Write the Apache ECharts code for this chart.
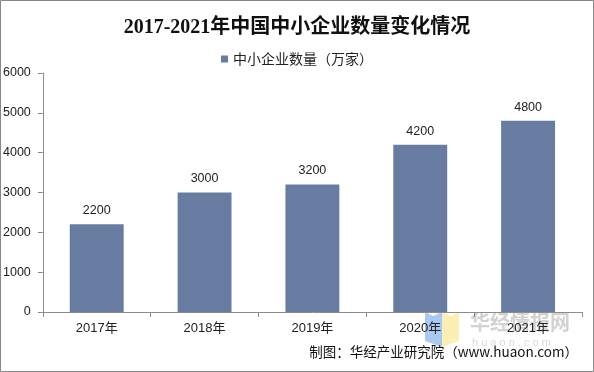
<!DOCTYPE html>
<html>
<head>
<meta charset="utf-8">
<script src="https://cdn.jsdelivr.net/npm/echarts@6/dist/echarts.min.js"></script>
<style>
html,body{margin:0;padding:0;background:#fff;}
#c{width:594px;height:372px;}
</style>
</head>
<body>
<div id="c"></div>
<script>
const categories = ['2017年', '2018年', '2019年', '2020年', '2021年'];
const values = [2200, 3000, 3200, 4200, 4800];
const seriesName = '中小企业数量（万家）';
const yTicks = { min: 0, max: 6000, interval: 1000 };
const titleText = '2017-2021年中国中小企业数量变化情况';
const sourceText = '制图：华经产业研究院（www.huaon.com）';

const chart = echarts.init(document.getElementById('c'), null, { renderer: 'canvas' });
chart.setOption({
  animation: false,
  backgroundColor: '#fff',
  title: {
    text: titleText,
    left: 'center',
    top: 13,
    textStyle: {
      fontFamily: "'Liberation Serif', 'Noto Sans CJK SC', serif",
      fontWeight: 'bold',
      fontSize: 20,
      color: '#111'
    }
  },
  legend: {
    top: 47,
    left: 'center',
    icon: 'rect',
    itemWidth: 7,
    itemHeight: 7,
    itemGap: 4,
    textStyle: { fontSize: 14, color: '#222', fontFamily: "'Noto Sans CJK SC', sans-serif" }
  },
  grid: { left: 42, right: 12, top: 73, bottom: 60, containLabel: false },
  xAxis: {
    type: 'category',
    data: categories,
    axisLine: { lineStyle: { color: '#8c8c8c', width: 1 } },
    axisTick: { show: true, alignWithLabel: false, length: 5, lineStyle: { color: '#8c8c8c' } },
    axisLabel: { fontSize: 13, color: '#222', margin: 10, fontFamily: "'Liberation Sans', 'Noto Sans CJK SC', sans-serif" },
    splitLine: { show: false }
  },
  yAxis: {
    type: 'value',
    min: yTicks.min,
    max: yTicks.max,
    interval: yTicks.interval,
    axisLine: { show: true, lineStyle: { color: '#8c8c8c', width: 1 } },
    axisTick: { show: true, length: 5, lineStyle: { color: '#8c8c8c' } },
    axisLabel: { fontSize: 12.5, color: '#222', margin: 12, formatter: v => String(v), fontFamily: "'Liberation Sans', sans-serif" },
    splitLine: { show: false }
  },
  series: [{
    name: seriesName,
    type: 'bar',
    data: values,
    barWidth: '50%',
    itemStyle: { color: '#687ca2' },
    label: {
      show: true,
      position: 'top',
      distance: 7,
      fontSize: 12.5,
      color: '#222',
      fontFamily: "'Liberation Sans', sans-serif"
    }
  }],
  graphic: [
    { type: 'rect', z: 100, shape: { x: 0.5, y: 0.5, width: 593, height: 371 }, style: { fill: 'none', stroke: '#888', lineWidth: 1 } },
    { type: 'polygon', z: -10, shape: { points: [[425, 312], [433, 316], [442, 312], [442, 347], [425, 341]] }, style: { fill: '#a9c9f3' } },
    { type: 'polygon', z: -10, shape: { points: [[442, 312], [451, 316], [459, 312], [459, 341], [442, 347]] }, style: { fill: '#fcefb3' } },
    { type: 'text', z: -10, left: 470, top: 312, style: { text: '华经情报网', fontSize: 20, fontWeight: 'bold', fill: '#d2d2d2', fontFamily: "'Noto Sans CJK SC', sans-serif" } },
    { type: 'text', z: -10, left: 472, top: 337, style: { text: 'h u a o n . c o m', fontSize: 11, fill: '#dadada', fontFamily: "'Liberation Sans', sans-serif" } },
    { type: 'text', right: 16, top: 345, style: { text: sourceText, fontSize: 13.5, fill: '#111', fontFamily: "'Noto Sans CJK SC', 'Liberation Sans', sans-serif" } }
  ]
});
</script>
</body>
</html>
